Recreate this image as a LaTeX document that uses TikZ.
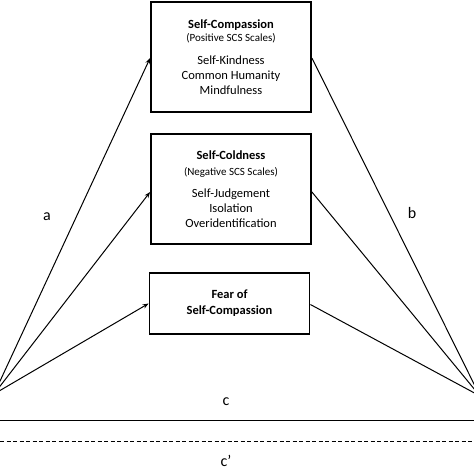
\documentclass[tikz,border=0pt]{standalone}
\usepackage{fontspec}
\setmainfont{Carlito}
\usetikzlibrary{arrows.meta}

\begin{document}
\begin{tikzpicture}[x=1pt,y=-1pt,
  var/.style={draw,line width=1.8pt,minimum width=160pt,inner sep=0pt,align=center,font=\fontsize{12.5}{15}\selectfont},
  link/.style={line width=1pt,-{Stealth[length=6pt,width=4.5pt]}},
  lbl/.style={font=\fontsize{16}{18}\selectfont}]
\useasboundingbox (0,0) rectangle (474,474);
% mediators
\node[var,minimum height=110pt](sc) at (231,57) {\textbf{Self-Compassion}\\[-2pt]
  {\fontsize{11}{13}\selectfont (Positive SCS Scales)}\\[8pt]
  Self-Kindness\\ Common Humanity\\ Mindfulness};
\node[var,minimum height=110pt](scold) at (231,189) {\textbf{Self-Coldness}\\[1pt]
  {\fontsize{11}{13}\selectfont (Negative SCS Scales)}\\[7pt]
  Self-Judgement\\ Isolation\\ Overidentification};
\node[var,minimum height=61pt](fear) at (229.5,303.5) {\textbf{Fear of}\\[1pt] \textbf{Self-Compassion}};
% end points
\coordinate (x) at (-6,394);
\coordinate (y) at (480,396);
\draw[link] (x) -- ([yshift=-1pt]sc.west);
\draw[link] (x) -- ([yshift=-3pt]scold.west);
\draw[link] (x) -- (fear.west);
\draw[line width=1pt] ([yshift=-1pt]sc.east) -- (y);
\draw[line width=1pt] ([yshift=-3pt]scold.east) -- (y);
\draw[line width=1pt] ([yshift=-1pt]fear.east) -- (y);
\node[lbl](a) at (47,217) {a};
\node[lbl](b) at (412,213) {b};
% direct paths
\coordinate (cl) at (0,420);
\coordinate (cr) at (474,420);
\coordinate (dl) at (0,441);
\coordinate (dr) at (474,441);
\draw[line width=1pt] (cl) -- (cr);
\draw[line width=1pt,dash pattern=on 4pt off 2.5pt] (dl) -- (dr);
\node[lbl](c) at (226,402) {c};
\node[lbl](cp) at (226,461) {c’};
\end{tikzpicture}
\end{document}
